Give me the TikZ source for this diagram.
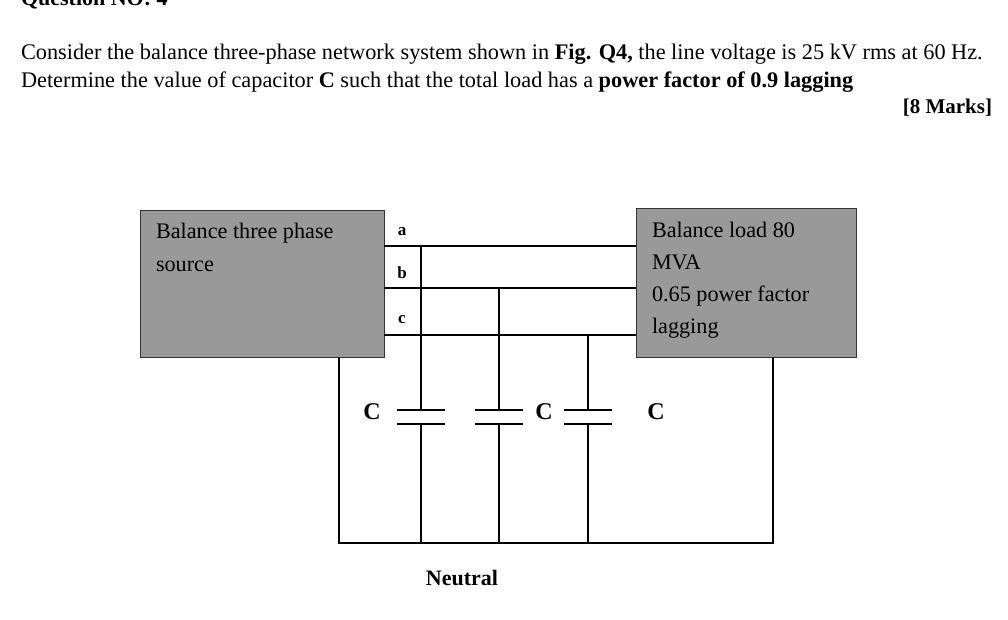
\documentclass[tikz,border=0pt]{standalone}
\usepackage{fontspec}
\setmainfont{Liberation Serif}
\begin{document}
\begin{tikzpicture}[x=1pt,y=-1pt,line width=2pt,
  box/.style={draw=black!80,fill=black!40,line width=1pt},
  txt/.style={font=\fontsize{22.3}{24}\selectfont,anchor=base west,inner sep=0},
  btxt/.style={font=\fontsize{22.2}{24}\selectfont,anchor=base west,inner sep=0},
  lab/.style={font=\bfseries\fontsize{17}{20}\selectfont,inner sep=0},
  clab/.style={font=\bfseries\fontsize{24}{26}\selectfont,inner sep=0},
  plate/.style={line width=2pt}]
\useasboundingbox (0,0) rectangle (1008,619);
\clip (0,0) rectangle (1008,619);
\node[txt,font=\bfseries\fontsize{22}{24}\selectfont] (q) at (20,5) {Question NO: 4};
\node[txt] (l1) at (20,59) {Consider the balance three-phase network system shown in \textbf{Fig. Q4,} the line voltage is 25 kV rms at 60 Hz.};
\node[txt] (l2) at (20,87) {Determine the value of capacitor \textbf{C} such that the total load has a \textbf{power factor of 0.9 lagging}};
\node[txt,anchor=base east,font=\bfseries\fontsize{21}{24}\selectfont] (mk) at (993,113) {[8 Marks]};
% boxes
\node[box,minimum width=244,minimum height=147,inner sep=0,anchor=north west] (src) at (140,210) {};
\node[box,minimum width=220,minimum height=149,inner sep=0,anchor=north west] (ld) at (636,208) {};
\node[btxt] (s1) at (155,238) {Balance three phase};
\node[btxt] (s2) at (155,271) {source};
\node[btxt] (d1) at (651,237) {Balance load 80};
\node[btxt] (d2) at (651,269) {MVA};
\node[btxt] (d3) at (651,301) {0.65 power factor};
\node[btxt] (d4) at (651,333) {lagging};
% lines
\coordinate (a1) at (384,246); \coordinate (a2) at (636,246);
\coordinate (b1) at (384,288); \coordinate (b2) at (636,288);
\coordinate (c1) at (384,335); \coordinate (c2) at (636,335);
\draw (a1) -- (a2); \draw (b1) -- (b2); \draw (c1) -- (c2);
\node[lab] (la) at (402,232) {a};
\node[lab] (lb) at (402,273) {b};
\node[lab] (lc) at (402,320) {c};
% capacitors
\foreach \x/\y in {421/246,499/288,588/335}{
  \draw (\x,\y) -- (\x,410);
  \draw[plate] (\x-24,410) -- (\x+24,410);
  \draw[plate] (\x-24,424) -- (\x+24,424);
  \draw (\x,424) -- (\x,543);
}
\draw (339,357) -- (339,543) -- (773,543) -- (773,357);
\node[clab] (c1l) at (372,412) {C};
\node[clab] (c2l) at (544,412) {C};
\node[clab] (c3l) at (656,412) {C};
\node[clab,font=\bfseries\fontsize{22}{24}\selectfont] (nt) at (462,578) {Neutral};
\end{tikzpicture}
\end{document}
